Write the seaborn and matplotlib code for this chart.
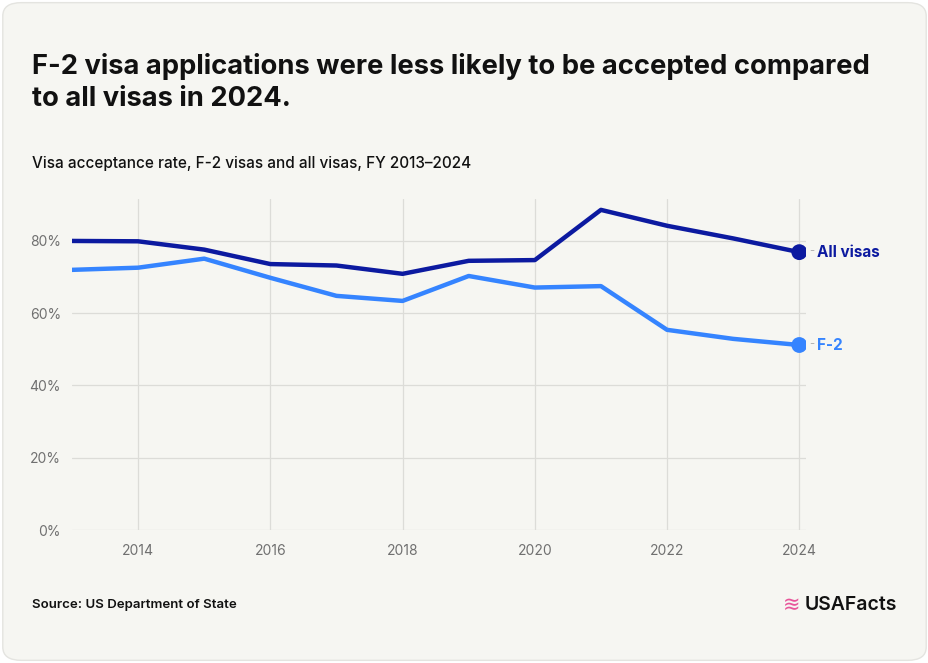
import matplotlib
matplotlib.use("Agg")
import matplotlib.pyplot as plt
from matplotlib.patches import FancyBboxPatch
import seaborn as sns
import pandas as pd

years = list(range(2013, 2025))
all_visas = [80.0, 79.9, 77.6, 73.6, 73.2, 70.9, 74.5, 74.7, 88.6, 84.2, 80.7, 76.9]
f2_visas = [72.0, 72.6, 75.1, 69.8, 64.8, 63.4, 70.3, 67.1, 67.5, 55.4, 52.9, 51.2]
series_names = ["All visas", "F-2"]
series_colors = {"All visas": "#0C1AA0", "F-2": "#3584FF"}
y_ticks = [0, 20, 40, 60, 80]
x_ticks = [2014, 2016, 2018, 2020, 2022, 2024]

df = pd.DataFrame({
    "year": years * 2,
    "rate": all_visas + f2_visas,
    "series": ["All visas"] * len(years) + ["F-2"] * len(years),
})

sns.set_theme(style="white")
plt.rcParams["font.family"] = ["Inter", "DejaVu Sans"]
bg = "#F6F6F2"

fig = plt.figure(figsize=(9.29, 6.63), dpi=100)
fig.patch.set_facecolor("white")
card = FancyBboxPatch((0.003, 0.004), 0.994, 0.992,
                      boxstyle="round,pad=0,rounding_size=0.02",
                      transform=fig.transFigure, facecolor=bg,
                      edgecolor="#E4E4E0", linewidth=1, zorder=-10)
fig.patches.append(card)

ax = fig.add_axes([0.0775, 0.2006, 0.79, 0.4992])
ax.set_facecolor(bg)

sns.lineplot(data=df, x="year", y="rate", hue="series", palette=series_colors,
             linewidth=3.2, ax=ax, legend=False, zorder=3)

last = df[df["year"] == years[-1]]
sns.scatterplot(data=last, x="year", y="rate", hue="series", palette=series_colors,
                s=130, edgecolor="none", ax=ax, legend=False, zorder=4)

for name in series_names:
    val = last.loc[last["series"] == name, "rate"].iloc[0]
    ax.annotate("-", (years[-1], val), xytext=(7, 0.5), textcoords="offset points",
                va="center", ha="left", color="#AAAAAA", fontsize=8,
                annotation_clip=False)
    ax.annotate(name, (years[-1], val), xytext=(13, 0), textcoords="offset points",
                va="center", ha="left", color=series_colors[name], fontsize=11,
                fontweight="bold", annotation_clip=False)

ax.set_xlim(2013, 2024.1)
ax.set_ylim(0, 91.6)
ax.set_yticks(y_ticks)
ax.set_yticklabels([f"{t}%" for t in y_ticks])
ax.set_xticks(x_ticks)
ax.set_xticklabels([str(t) for t in x_ticks])
ax.grid(True, color="#DCDCD8", linewidth=0.9)
ax.set_axisbelow(True)
for s in ax.spines.values():
    s.set_visible(False)
ax.tick_params(axis="both", length=0, labelsize=10, labelcolor="#707070")
ax.tick_params(axis="y", pad=8)
ax.tick_params(axis="x", pad=10)
ax.set_xlabel("")
ax.set_ylabel("")

fig.text(0.034, 0.875, "F-2 visa applications were less likely to be accepted compared\nto all visas in 2024.",
         fontsize=19.7, fontweight="bold", color="#111111", va="center", ha="left",
         linespacing=1.3)
fig.text(0.034, 0.754, "Visa acceptance rate, F-2 visas and all visas, FY 2013\u20132024",
         fontsize=11, fontweight="medium", color="#111111", va="center", ha="left")
fig.text(0.034, 0.088, "Source: US Department of State", fontsize=9.5,
         fontweight="semibold", color="#111111", va="center", ha="left")
fig.text(0.852, 0.088, "\u224b", fontsize=15, color="#E8559A", va="center", ha="center")
fig.text(0.966, 0.088, "USAFacts", fontsize=14, fontweight="semibold",
         color="#111111", va="center", ha="right")

fig.savefig("out.png", dpi=100, facecolor=fig.get_facecolor())
